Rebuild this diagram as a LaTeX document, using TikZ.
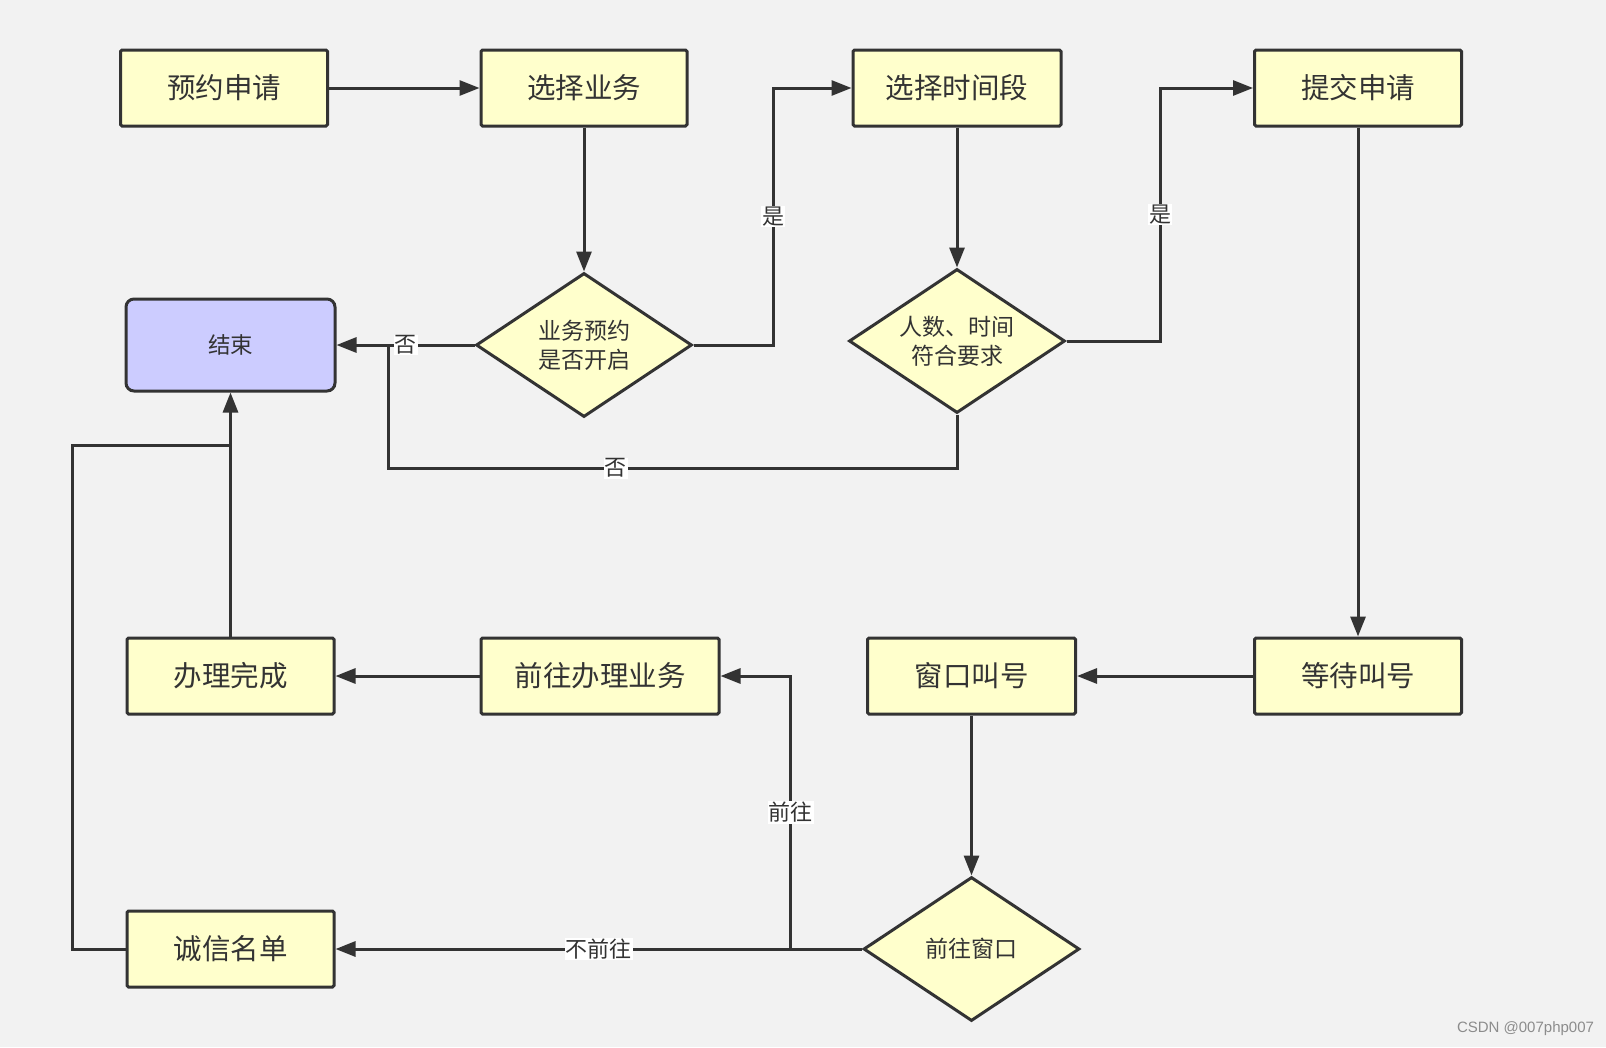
\documentclass[tikz,border=0pt]{standalone}
\usepackage{fontspec}
\setmainfont{Noto Sans CJK SC}
\newfontfamily\wmfont{Liberation Sans}
\usetikzlibrary{shapes.geometric,arrows.meta,calc}
\definecolor{bgc}{HTML}{F2F2F2}
\definecolor{boxfill}{HTML}{FFFFCC}
\definecolor{endfill}{HTML}{CCCCFF}
\definecolor{linec}{HTML}{333333}
\definecolor{textc}{HTML}{333333}
\tikzset{
  procbox/.style={draw=linec, line width=3pt, fill=boxfill, rounded corners=1.5pt,
    minimum height=76pt, text=textc, font=\fontsize{28.5}{32}\selectfont, inner sep=0pt},
  endbox/.style={draw=linec, line width=3pt, fill=endfill, rounded corners=8pt,
    minimum width=209pt, minimum height=92pt, text=textc, font=\fontsize{22.5}{26}\selectfont},
  decision/.style={diamond, draw=linec, line width=3pt, fill=boxfill,
    minimum width=216pt, minimum height=144pt, inner sep=0pt},
  dtext/.style={text=textc, align=center, inner sep=0pt,
    font=\fontsize{23}{29}\selectfont},
  conn/.style={draw=linec, line width=3pt, -{Triangle[length=20pt,width=15pt]}},
  plain/.style={draw=linec, line width=3pt},
  lbl/.style={fill=white, text=textc, inner sep=1pt, font=\fontsize{22}{24}\selectfont}
}
\begin{document}
\begin{tikzpicture}[x=1pt,y=-1pt]
\path[fill=bgc] (0,0) rectangle (1606,1047);
% top row
\node[procbox, minimum width=207pt] (apply) at (224,88) {预约申请};
\node[procbox, minimum width=206pt] (selbiz) at (584,88) {选择业务};
\node[procbox, minimum width=208pt] (seltime) at (957,88) {选择时间段};
\node[procbox, minimum width=207pt] (submit) at (1358,88) {提交申请};
% middle row
\node[endbox] (finish) at (230.5,345) {结束};
\node[decision] (d1) at (584,345) {};
\node[dtext] (d1t) at (d1) {业务预约\\是否开启};
\node[decision] (d2) at (957,341) {};
\node[dtext] (d2t) at (d2) {人数、时间\\符合要求};
% lower row
\node[procbox, minimum width=207pt] (done) at (230.5,676) {办理完成};
\node[procbox, minimum width=238pt] (goto) at (600,676) {前往办理业务};
\node[procbox, minimum width=208pt] (window) at (971.5,676) {窗口叫号};
\node[procbox, minimum width=207pt] (wait) at (1358,676) {等待叫号};
% bottom row
\node[procbox, minimum width=207pt] (credit) at (230.5,949) {诚信名单};
\node[decision] (d3) at (971.5,949) {};
\node[dtext] (d3t) at (d3) {前往窗口};
% helper coordinates
\coordinate (j1) at (773,345);
\coordinate (j2) at (1160,341);
\coordinate (j3a) at (957,468);
\coordinate (j3b) at (388,468);
\coordinate (j3c) at (388,345);
\coordinate (j4) at (790.7,949);
\coordinate (j5a) at (72.7,949);
\coordinate (j5b) at (72.7,445.5);
\coordinate (j5c) at (230.5,445.5);
% connectors
\draw[conn] (apply) -- (selbiz);
\draw[conn] (selbiz) -- (d1);
\draw[conn] (d1.east) -- (j1) -- node[lbl]{是} (j1 |- seltime.west) -- (seltime.west);
\draw[conn] (d1.west) -- node[lbl]{否} (finish.east);
\draw[conn] (seltime) -- (d2);
\draw[conn] (d2.east) -- (j2) -- node[lbl]{是} (j2 |- submit.west) -- (submit.west);
\draw[plain, line join=miter] (d2.south) -- (j3a) -- node[lbl, pos=0.6]{否} (j3b) -- (j3c);
\draw[conn] (submit) -- (wait);
\draw[conn] (wait) -- (window);
\draw[conn] (window) -- (d3);
\draw[conn] (d3.west) -- node[lbl]{不前往} (credit.east);
\draw[conn] (j4) -- node[lbl]{前往} (j4 |- goto.east) -- (goto.east);
\draw[conn] (goto) -- (done);
\draw[conn] (done) -- (finish);
\draw[plain, line join=miter] (credit.west) -- (j5a) -- (j5b) -- (j5c);
% watermark
\node[text=black!45, font=\wmfont\fontsize{15}{17}\selectfont] (wm) at (1525.5,1029) {CSDN @007php007};
\end{tikzpicture}
\end{document}
